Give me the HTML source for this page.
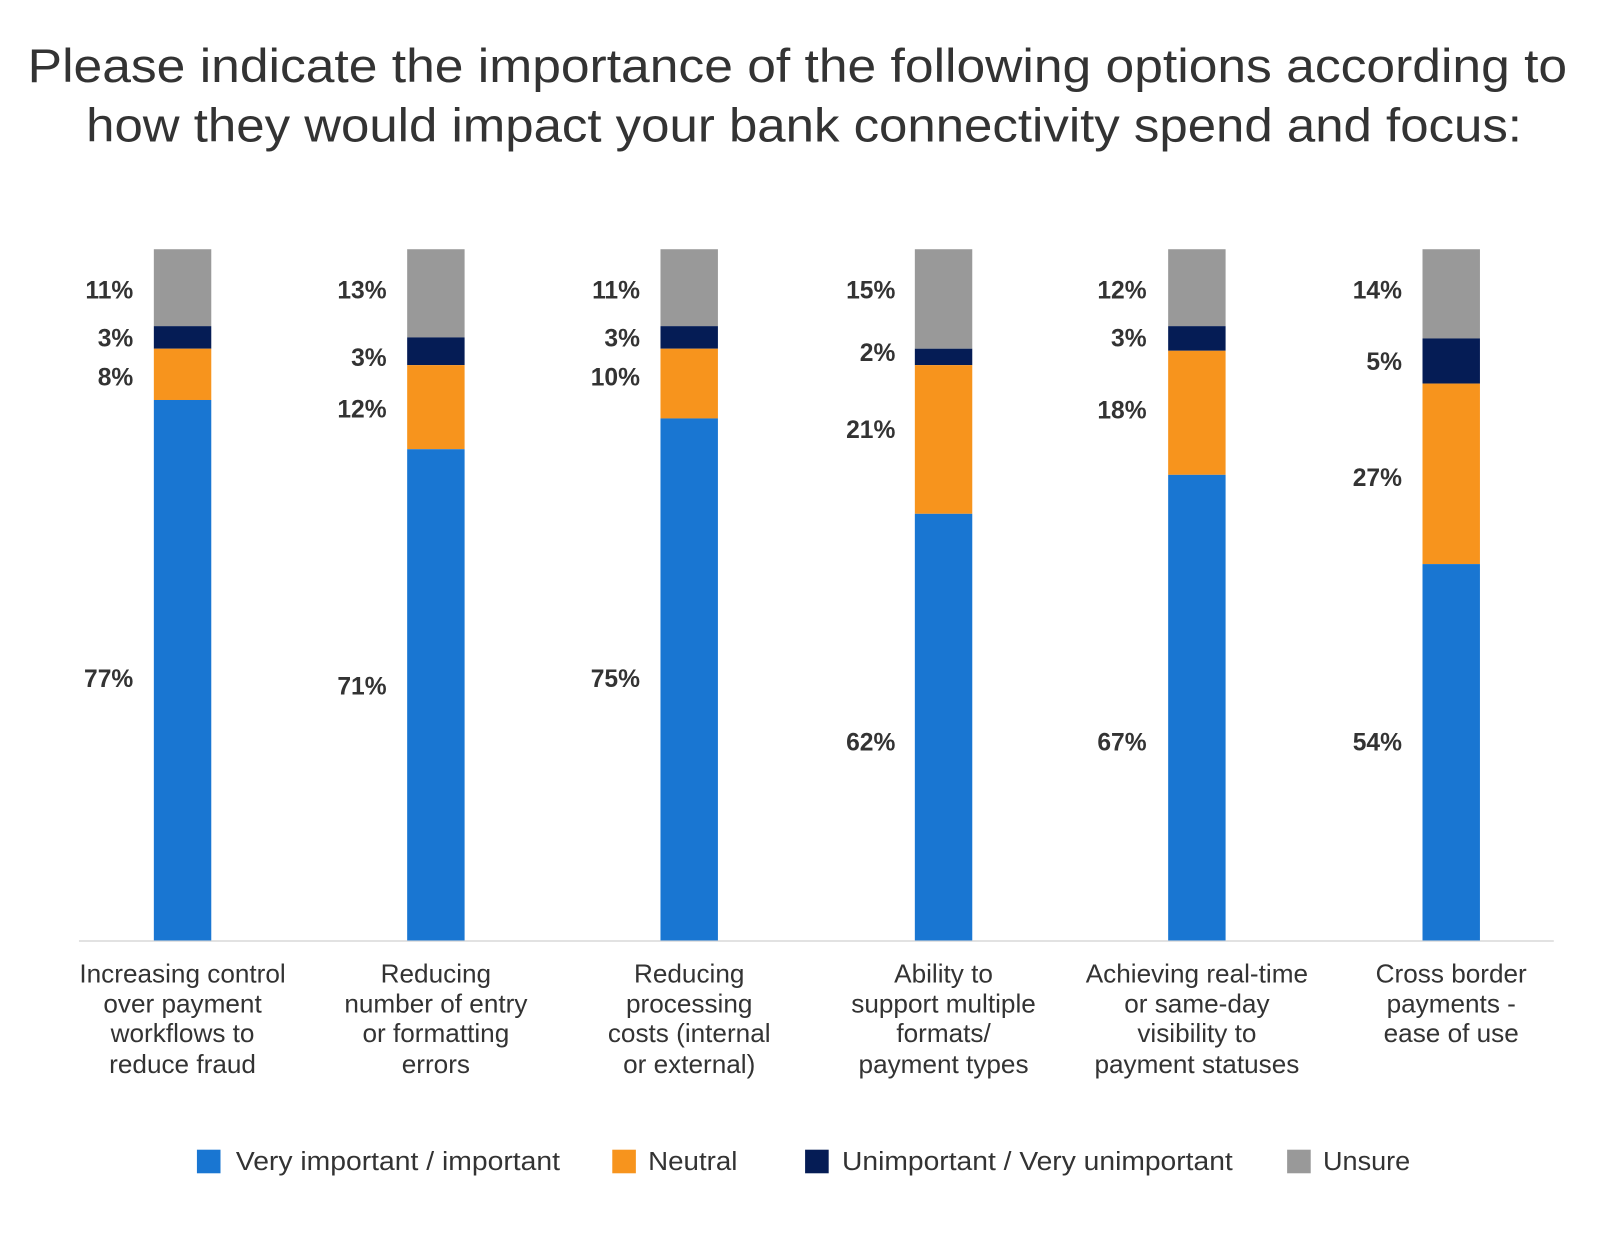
<!DOCTYPE html>
<html><head><meta charset="utf-8"><style>
body{margin:0;background:#fff;}
svg text{font-family:"Liberation Sans",sans-serif;fill:#333;}
</style></head><body>
<svg width="1600" height="1236" xmlns="http://www.w3.org/2000/svg">
<rect width="1600" height="1236" fill="#fff"/>
<g transform="scale(1.0256)">
<text x="27" y="80" font-size="46" textLength="1501" lengthAdjust="spacingAndGlyphs">Please indicate the importance of the following options  according to</text>
<text x="84" y="138" font-size="46" textLength="1400" lengthAdjust="spacingAndGlyphs">how they would impact your bank connectivity spend and focus:</text>
<line x1="77" y1="917.5" x2="1515" y2="917.5" stroke="#d9d9d9" stroke-width="1.5"/>
<rect x="150" y="243" width="56" height="75" fill="#999"/>
<rect x="150" y="318" width="56" height="22" fill="#051c55"/>
<rect x="150" y="340" width="56" height="50" fill="#f7941d"/>
<rect x="150" y="390" width="56" height="527" fill="#1976d2"/>
<rect x="397" y="243" width="56" height="86" fill="#999"/>
<rect x="397" y="329" width="56" height="27" fill="#051c55"/>
<rect x="397" y="356" width="56" height="82" fill="#f7941d"/>
<rect x="397" y="438" width="56" height="479" fill="#1976d2"/>
<rect x="644" y="243" width="56" height="75" fill="#999"/>
<rect x="644" y="318" width="56" height="22" fill="#051c55"/>
<rect x="644" y="340" width="56" height="68" fill="#f7941d"/>
<rect x="644" y="408" width="56" height="509" fill="#1976d2"/>
<rect x="892" y="243" width="56" height="97" fill="#999"/>
<rect x="892" y="340" width="56" height="16" fill="#051c55"/>
<rect x="892" y="356" width="56" height="145" fill="#f7941d"/>
<rect x="892" y="501" width="56" height="416" fill="#1976d2"/>
<rect x="1139" y="243" width="56" height="75" fill="#999"/>
<rect x="1139" y="318" width="56" height="24" fill="#051c55"/>
<rect x="1139" y="342" width="56" height="121" fill="#f7941d"/>
<rect x="1139" y="463" width="56" height="454" fill="#1976d2"/>
<rect x="1387" y="243" width="56" height="87" fill="#999"/>
<rect x="1387" y="330" width="56" height="44" fill="#051c55"/>
<rect x="1387" y="374" width="56" height="176" fill="#f7941d"/>
<rect x="1387" y="550" width="56" height="367" fill="#1976d2"/>
<g font-size="24" font-weight="bold" text-anchor="end">
<text x="130" y="291">11%</text><text x="130" y="338">3%</text><text x="130" y="376">8%</text><text x="130" y="670">77%</text>
<text x="377" y="291">13%</text><text x="377" y="357">3%</text><text x="377" y="407">12%</text><text x="377" y="677">71%</text>
<text x="624" y="291">11%</text><text x="624" y="338">3%</text><text x="624" y="376">10%</text><text x="624" y="670">75%</text>
<text x="873" y="291">15%</text><text x="873" y="352">2%</text><text x="873" y="427">21%</text><text x="873" y="732">62%</text>
<text x="1118" y="291">12%</text><text x="1118" y="338">3%</text><text x="1118" y="408">18%</text><text x="1118" y="732">67%</text>
<text x="1367" y="291">14%</text><text x="1367" y="361">5%</text><text x="1367" y="474">27%</text><text x="1367" y="732">54%</text>
</g>
<g font-size="25.5" text-anchor="middle">
<text x="178" y="958">Increasing control</text><text x="178" y="987">over payment</text><text x="178" y="1016">workflows to</text><text x="178" y="1046">reduce fraud</text>
<text x="425" y="958">Reducing</text><text x="425" y="987">number of entry</text><text x="425" y="1016">or formatting</text><text x="425" y="1046">errors</text>
<text x="672" y="958">Reducing</text><text x="672" y="987">processing</text><text x="672" y="1016">costs (internal</text><text x="672" y="1046">or external)</text>
<text x="920" y="958">Ability to</text><text x="920" y="987">support multiple</text><text x="920" y="1016">formats/</text><text x="920" y="1046">payment types</text>
<text x="1167" y="958">Achieving real-time</text><text x="1167" y="987">or same-day</text><text x="1167" y="1016">visibility to</text><text x="1167" y="1046">payment statuses</text>
<text x="1415" y="958">Cross border</text><text x="1415" y="987">payments -</text><text x="1415" y="1016">ease of use</text>
</g>
<g font-size="25">
<rect x="192" y="1121" width="23" height="23" fill="#1976d2"/><text x="230" y="1141" textLength="316" lengthAdjust="spacingAndGlyphs">Very important / important</text>
<rect x="597" y="1121" width="23" height="23" fill="#f7941d"/><text x="632" y="1141" textLength="87" lengthAdjust="spacingAndGlyphs">Neutral</text>
<rect x="785" y="1121" width="23" height="23" fill="#051c55"/><text x="821" y="1141" textLength="381" lengthAdjust="spacingAndGlyphs">Unimportant / Very unimportant</text>
<rect x="1255" y="1121" width="23" height="23" fill="#999"/><text x="1290" y="1141" textLength="85" lengthAdjust="spacingAndGlyphs">Unsure</text>
</g>
</g>
</svg>
</body></html>
